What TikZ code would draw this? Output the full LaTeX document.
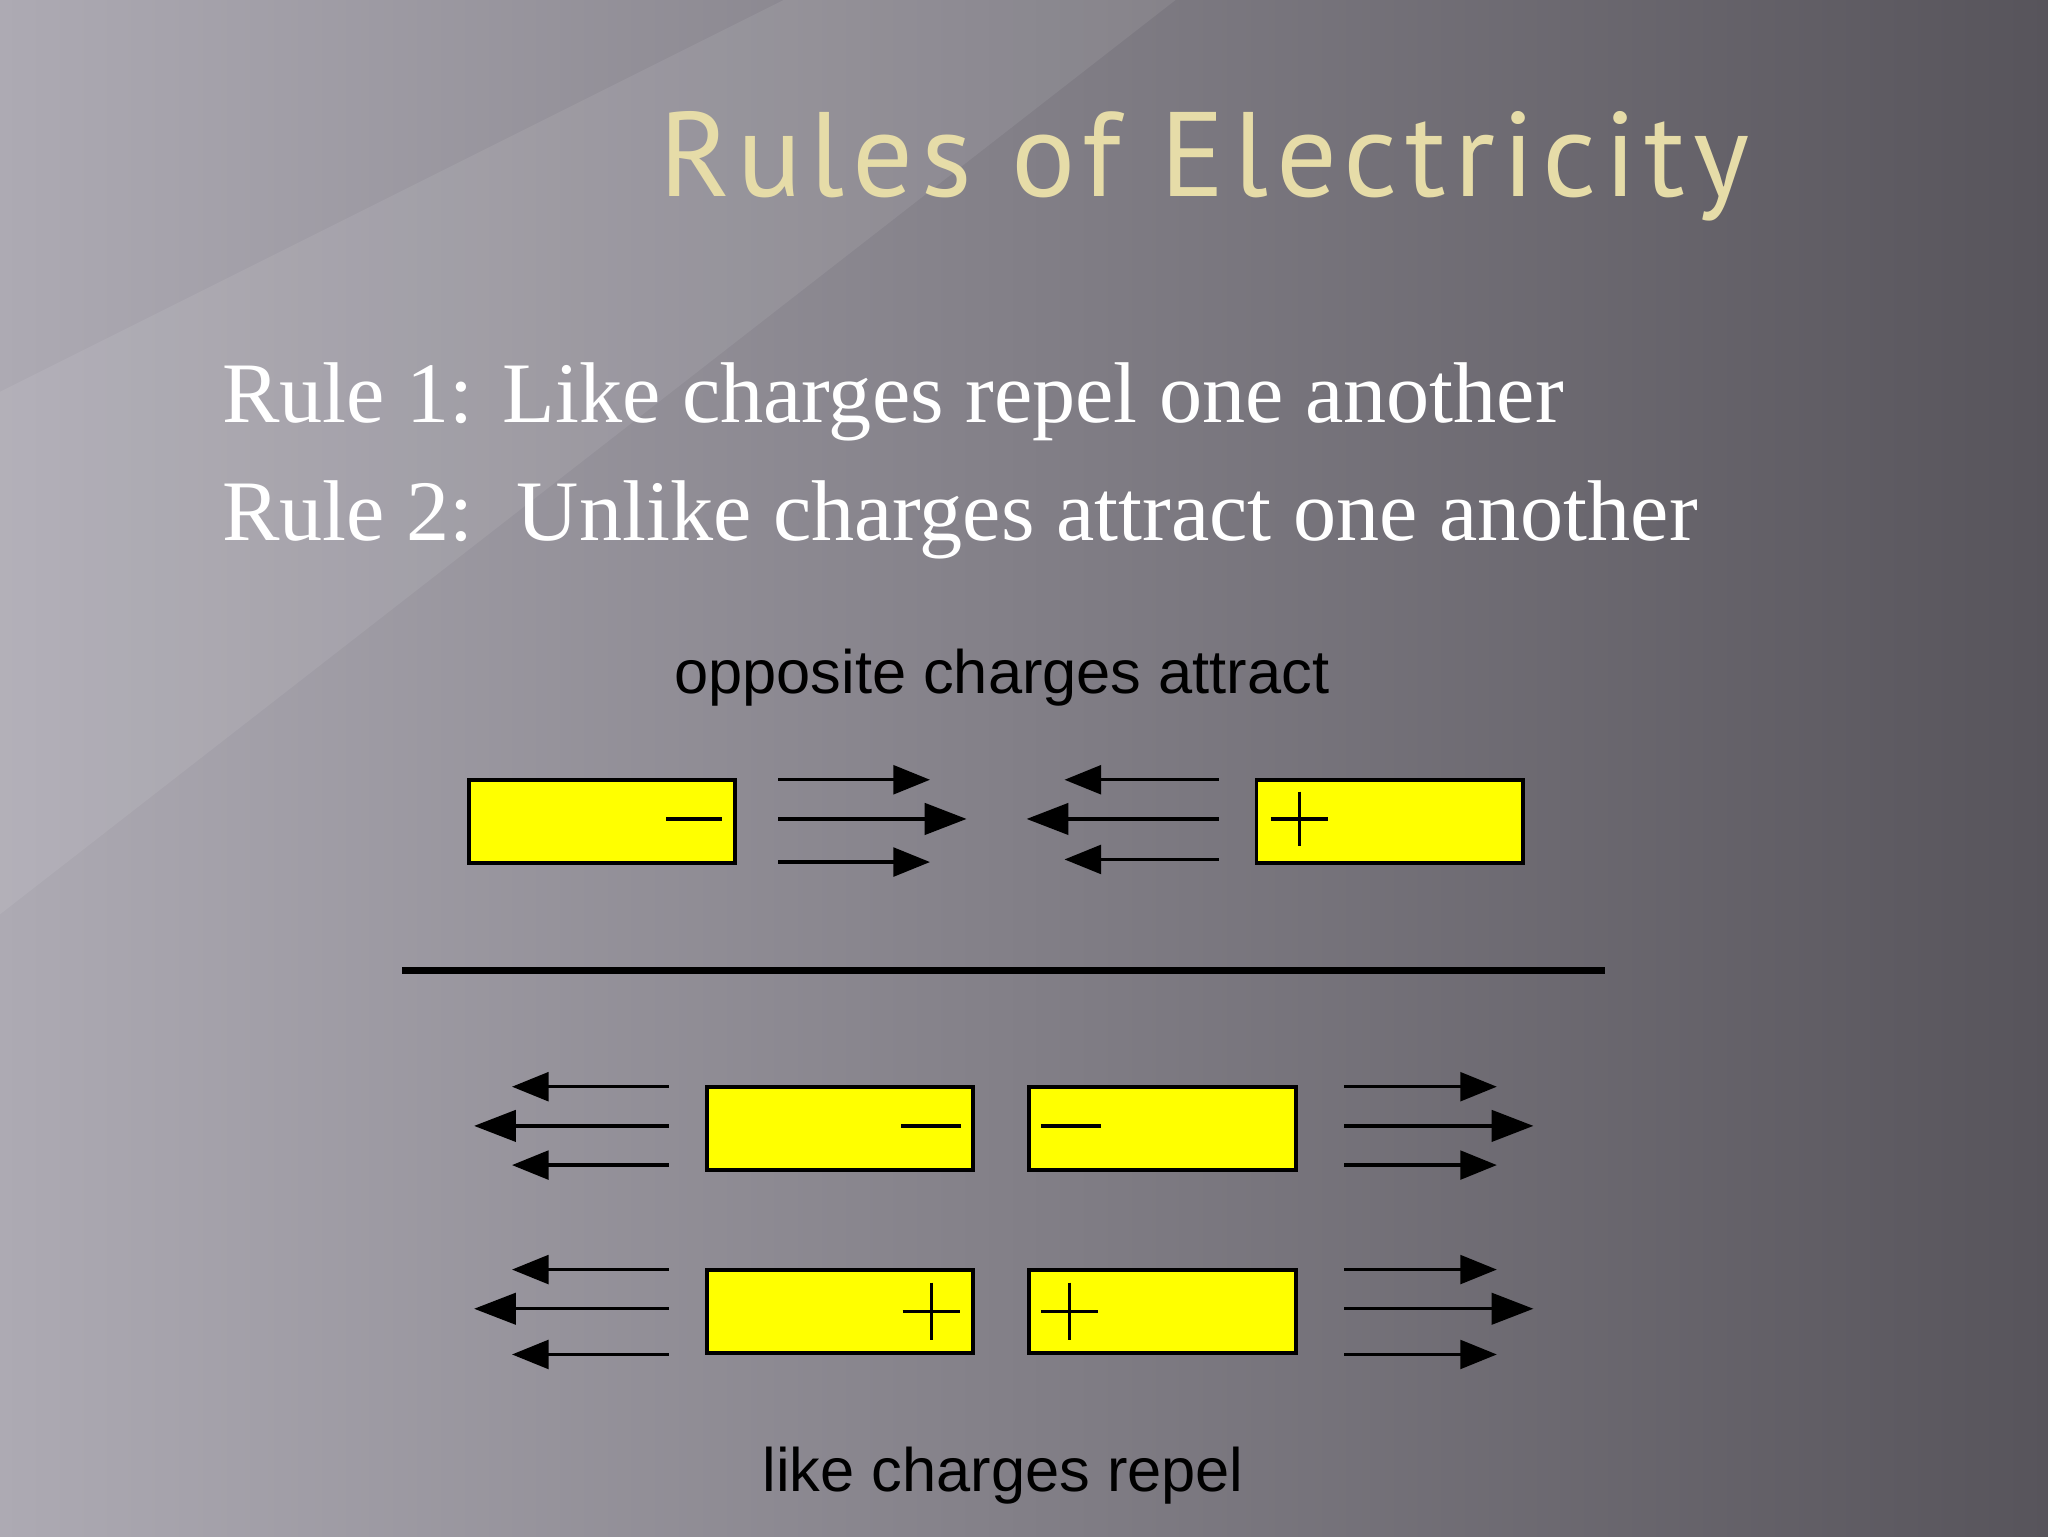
\documentclass[tikz,border=0pt]{standalone}
\usetikzlibrary{arrows.meta}
\usepackage{fontspec}
\setmainfont{Liberation Serif}
\newfontfamily\titlefont[LetterSpace=6.5]{PT Sans}
\newfontfamily\labfont{Liberation Sans}
\definecolor{bgl}{HTML}{ADAAB3}
\definecolor{bgd}{HTML}{57545B}
\definecolor{gold}{HTML}{E6DCA8}
\definecolor{boxy}{HTML}{FFFF00}
\begin{document}
\begin{tikzpicture}[x=1pt,y=-1pt,
  chbox/.style={draw=black,line width=3pt,fill=boxy,minimum width=204pt,minimum height=64pt,inner sep=0pt},
  arr/.style={line width=2.5pt,-{Triangle[length=28pt,width=22pt]}},
  arrs/.style={line width=2.5pt,-{Triangle[length=32pt,width=24pt]}},
  sign/.style={line width=2.5pt}]
\useasboundingbox (0,0) rectangle (1568,1176);
\shade[shading angle=120,left color=bgl,right color=bgd] (0,0) rectangle (1568,1176);
\fill[white,opacity=0.08] (0,300) -- (600,0) -- (900,0) -- (0,700) -- cycle;
% title
\node (title) [text=gold,font=\titlefont\fontsize{92}{100}\selectfont] at (922,127) {Rules of Electricity};
\node (r1) [anchor=west,text=white,font=\fontsize{66}{74}\selectfont,inner sep=0pt] at (170,308) {Rule 1: Like charges repel one another};
\node (r2) [anchor=west,text=white,font=\fontsize{66}{74}\selectfont,inner sep=0pt] at (170,398) {Rule 2:\ \ Unlike charges attract one another};
\node (lt) [font=\labfont\fontsize{47}{50}\selectfont] at (767,519) {opposite charges attract};
\node (lb) [font=\labfont\fontsize{47}{50}\selectfont] at (768,1130) {like charges repel};
% top
\node (tl) [chbox] at (461,629) {};
\node (tr) [chbox] at (1064,629) {};
\draw[sign] (510,627) -- (553,627);
\draw[sign] (973,627) -- (1017,627) (995,606) -- (995,648);
\draw[arr] (596,597) -- (712,597);
\draw[arrs] (596,627) -- (740,627);
\draw[arr] (596,660) -- (712,660);
\draw[arr] (933,597) -- (815,597);
\draw[arrs] (933,627) -- (786,627);
\draw[arr] (933,658) -- (815,658);
% divider
\draw[line width=6pt] (308,743) -- (1229,743);
% row 1
\node (a1) [chbox] at (643,864) {};
\node (b1) [chbox] at (890,864) {};
\draw[sign] (690,862) -- (736,862);
\draw[sign] (797,862) -- (843,862);
% row 2
\node (a2) [chbox] at (643,1004) {};
\node (b2) [chbox] at (890,1004) {};
\draw[sign] (691,1004) -- (735,1004) (713,982) -- (713,1026);
\draw[sign] (797,1004) -- (841,1004) (819,982) -- (819,1026);
\foreach \y/\m/\d in {832/862/892, 972/1002/1037}{
  \draw[arr] (512,\y) -- (392,\y);
  \draw[arrs] (512,\m) -- (363,\m);
  \draw[arr] (512,\d) -- (392,\d);
  \draw[arr] (1029,\y) -- (1146,\y);
  \draw[arrs] (1029,\m) -- (1174,\m);
  \draw[arr] (1029,\d) -- (1146,\d);
}
\end{tikzpicture}
\end{document}
